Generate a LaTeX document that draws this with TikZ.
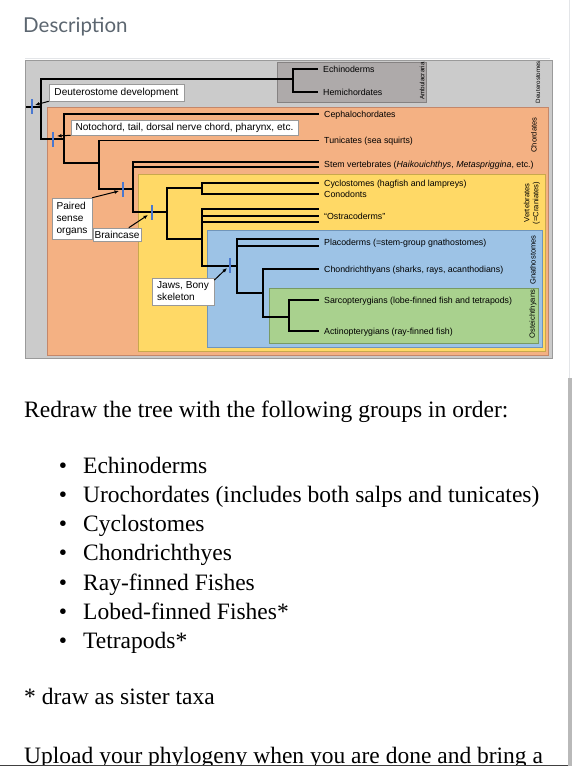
\documentclass[tikz,border=0pt]{standalone}
\usepackage{fontspec}
\setmainfont{Liberation Serif}
\newfontfamily\arialf{Liberation Sans}
\newfontfamily\latof{Lato}
\usetikzlibrary{arrows.meta}
\definecolor{bggray}{HTML}{CBCBCB}
\definecolor{bggrayd}{HTML}{9A9A9A}
\definecolor{ambu}{HTML}{AEAAAA}
\definecolor{ambud}{HTML}{858282}
\definecolor{chord}{HTML}{F4B183}
\definecolor{chordd}{HTML}{C4876A}
\definecolor{vert}{HTML}{FFD966}
\definecolor{vertd}{HTML}{C9A84C}
\definecolor{gnath}{HTML}{9DC3E6}
\definecolor{gnathd}{HTML}{7095BA}
\definecolor{oste}{HTML}{A9D18E}
\definecolor{osted}{HTML}{789A64}
\definecolor{tickblue}{HTML}{4A78D0}
\definecolor{desc}{HTML}{5C6670}
\definecolor{rulegray}{HTML}{E3E5E8}
\begin{document}
\begin{tikzpicture}[x=1pt,y=-1pt,
  grpbox/.style={line width=0.7pt},
  br/.style={line width=1.4pt, draw=black},
  tickmark/.style={fill=tickblue, draw=none, minimum width=2pt, minimum height=15pt, inner sep=0pt},
  lbl/.style={draw=gray!80, fill=white, line width=0.6pt, inner sep=1pt, align=left,
    font=\arialf\fontsize{10.1}{12}\selectfont},
  leaf/.style={anchor=west, inner xsep=5pt, inner ysep=0pt, text height=6.3pt, text depth=0pt,
    font=\arialf\fontsize{8.8}{10}\selectfont},
  grp/.style={rotate=90, inner sep=0pt, align=center, font=\arialf\fontsize{7.6}{9}\selectfont},
  arr/.style={-{Latex[length=4.5pt,width=3.8pt]}, line width=1pt},
  body/.style={anchor=base west, inner sep=0pt, font=\fontsize{23.5}{28}\selectfont},
  bul/.style={anchor=base, inner sep=0pt, font=\fontsize{23.5}{28}\selectfont}
]
\useasboundingbox (0,0) rectangle (578,766);
\fill[white] (0,0) rectangle (578,766);

% header
\node[anchor=base west, inner sep=0pt, text=desc, font=\latof\fontsize{20.5}{24}\selectfont] (title) at (23,32) {Description};
\draw[rulegray, line width=0.8pt] (25,58.5) -- (550,58.5);
\draw[rulegray, line width=0.8pt] (569.5,0) -- (569.5,378);
\fill[gray!55] (568,378) rectangle (571.5,766);

% group boxes
\filldraw[grpbox, fill=bggray, draw=bggrayd] (25,60) rectangle (552,358);
\filldraw[grpbox, fill=ambu, draw=ambud] (277,62) rectangle (426,102);
\filldraw[grpbox, fill=chord, draw=chordd] (47,107) rectangle (548,355);
\filldraw[grpbox, fill=vert, draw=vertd] (138,174) rectangle (545,351);
\filldraw[grpbox, fill=gnath, draw=gnathd] (207,230) rectangle (542,347);
\filldraw[grpbox, fill=oste, draw=osted] (269,288) rectangle (538,343);

% group labels
\node[grp, font=\arialf\fontsize{6.2}{7}\selectfont] (gDeut) at (538,82) {Deuterostomes};
\node[grp, font=\arialf\fontsize{6.3}{7}\selectfont] (gAmb) at (422,81) {Ambulacraria};
\node[grp] (gChord) at (534,135) {Chordates};
\node[grp] (gVert) at (532,203) {Vertebrates\\(=Craniates)};
\node[grp] (gGnath) at (533,260) {Gnathostomes};
\node[grp] (gOste) at (533,314) {Osteichthyans};

% leaves
\node[leaf] (echi) at (318,69) {Echinoderms};
\node[leaf] (hemi) at (318,92) {Hemichordates};
\node[leaf] (ceph) at (319,114) {Cephalochordates};
\node[leaf] (tuni) at (319,140.5) {Tunicates (sea squirts)};
\node[leaf] (stemv) at (319,164.5) {Stem vertebrates (\textit{Haikouichthys}, \textit{Metaspriggina}, etc.)};
\node[leaf] (cyclo) at (319,183) {Cyclostomes (hagfish and lampreys)};
\node[leaf] (conod) at (319,194) {Conodonts};
\node[leaf] (ostr) at (319,216) {“Ostracoderms”};
\node[leaf] (plac) at (319,242.5) {Placoderms (=stem-group gnathostomes)};
\node[leaf] (chond) at (319,269) {Chondrichthyans (sharks, rays, acanthodians)};
\node[leaf] (sarco) at (319,300) {Sarcopterygians (lobe-finned fish and tetrapods)};
\node[leaf] (actino) at (319,331) {Actinopterygians (ray-finned fish)};

% free line ends
\coordinate (sv1) at (319,162);
\coordinate (sv2) at (319,167);
\coordinate (os1) at (319,209);
\coordinate (os2) at (319,216);
\coordinate (os3) at (319,222);
\coordinate (pl1) at (319,239);
\coordinate (pl2) at (319,246);

% internal nodes
\coordinate (s0) at (26,107);
\coordinate (nR) at (41,107);
\coordinate (nA) at (293,79);
\coordinate (nC) at (64,139);
\coordinate (nT) at (99,163);
\coordinate (nV) at (133,189);
\coordinate (nVt) at (167,212);
\coordinate (nCy) at (202,188);
\coordinate (nOs) at (202,239);
\coordinate (nG) at (237,266);
\coordinate (nCh) at (263,293);
\coordinate (nO) at (289,317);

% branches
\draw[br] (s0) -- (nR);
\draw[br] (nR) |- (nA);
\draw[br] (nR) |- (nC);
\draw[br] (nA) |- (echi.west);
\draw[br] (nA) |- (hemi.west);
\draw[br] (nC) |- (ceph.west);
\draw[br] (nC) |- (nT);
\draw[br] (nT) |- (tuni.west);
\draw[br] (nT) |- (nV);
\draw[br] (nV) |- (sv1);
\draw[br] (nV) |- (sv2);
\draw[br] (nV) |- (nVt);
\draw[br] (nVt) |- (nCy);
\draw[br] (nVt) |- (nOs);
\draw[br] (nCy) |- (cyclo.west);
\draw[br] (nCy) |- (conod.west);
\draw[br] (nOs) |- (os1);
\draw[br] (nOs) |- (os2);
\draw[br] (nOs) |- (os3);
\draw[br] (nOs) |- (nG);
\draw[br] (nG) |- (pl1);
\draw[br] (nG) |- (pl2);
\draw[br] (nG) |- (nCh);
\draw[br] (nCh) |- (chond.west);
\draw[br] (nCh) |- (nO);
\draw[br] (nO) |- (sarco.west);
\draw[br] (nO) |- (actino.west);

% character ticks
\node[tickmark] (tk1) at (32,106.5) {};
\node[tickmark] (tk2) at (53,139.5) {};
\node[tickmark] (tk3) at (123,189.5) {};
\node[tickmark] (tk4) at (152,212.5) {};
\node[tickmark] (tk5) at (230,265.5) {};

% character labels
\node[lbl, minimum width=135pt, minimum height=17pt] (dd) at (116.5,92.5) {Deuterostome development};
\node[lbl, minimum width=227pt, minimum height=15pt] (noto) at (184.5,127.5) {Notochord, tail, dorsal nerve chord, pharynx, etc.};
\node[lbl, minimum width=40pt, minimum height=41pt] (paired) at (72,218.5) {Paired\\sense\\organs};
\node[lbl, minimum width=48pt, minimum height=13pt] (brain) at (117,234.5) {Braincase};
\node[lbl, minimum width=62pt, minimum height=27pt] (jaws) at (183,291.5) {Jaws, Bony\\skeleton};

\coordinate (a1) at (35,105);
\coordinate (a2) at (57,136);
\coordinate (a3) at (119,191);
\coordinate (a4) at (148,215);
\coordinate (a5) at (227,268);
\draw[arr] (dd.south west) -- (a1);
\draw[arr] (noto.south west) -- (a2);
\draw[arr] (paired.north east) -- (a3);
\draw[arr] (brain.30) -- (a4);
\draw[arr] (jaws.20) -- (a5);

% text below
\node[body] (redraw) at (24,417) {Redraw the tree with the following groups in order:};
\node[bul] (b1) at (63,473) {\textbullet};
\node[body] (i1) at (83,473) {Echinoderms};
\node[bul] (b2) at (63,502.3) {\textbullet};
\node[body] (i2) at (83,502.3) {Urochordates (includes both salps and tunicates)};
\node[bul] (b3) at (63,531.6) {\textbullet};
\node[body] (i3) at (83,531.6) {Cyclostomes};
\node[bul] (b4) at (63,560.9) {\textbullet};
\node[body] (i4) at (83,560.9) {Chondrichthyes};
\node[bul] (b5) at (63,590.2) {\textbullet};
\node[body] (i5) at (83,590.2) {Ray-finned Fishes};
\node[bul] (b6) at (63,619.5) {\textbullet};
\node[body] (i6) at (83,619.5) {Lobed-finned Fishes*};
\node[bul] (b7) at (63,648.8) {\textbullet};
\node[body] (i7) at (83,648.8) {Tetrapods*};
\node[body] (note) at (24,704) {* draw as sister taxa};
\node[body] (upload) at (24,763) {Upload your phylogeny when you are done and bring a};
\draw[black!75, line width=1pt] (0,765.5) -- (568,765.5);
\end{tikzpicture}
\end{document}
